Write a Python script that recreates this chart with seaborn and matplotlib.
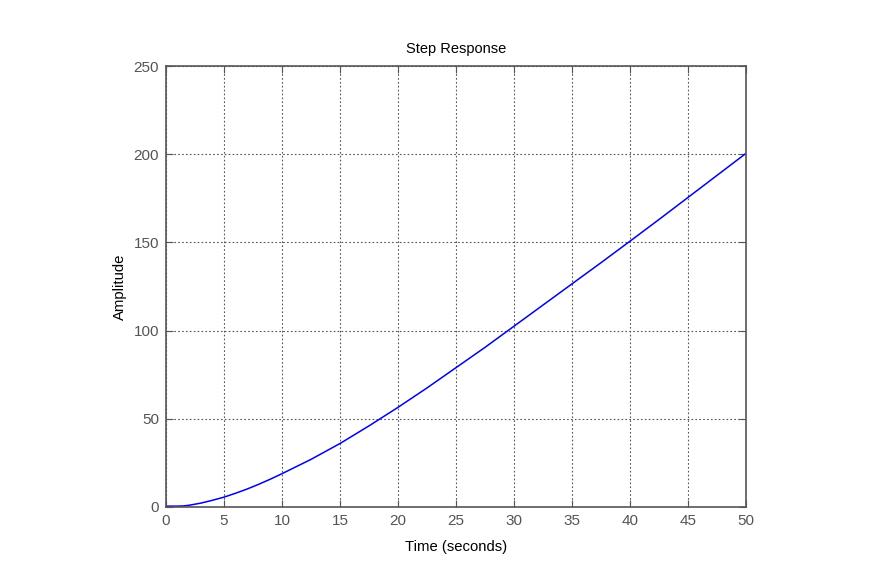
import matplotlib
matplotlib.use("Agg")
import matplotlib.pyplot as plt
import seaborn as sns
import pandas as pd

time_s = [0, 1, 1.5, 2, 3, 4, 5, 6, 7, 8, 9, 10, 12.5, 15, 17.5, 20, 22.5, 25,
          27.5, 30, 32.5, 35, 37.5, 40, 42.5, 45, 47.5, 50]
amplitude = [0.5, 0.5, 0.6, 1.0, 2.2, 3.8, 5.6, 7.8, 10.2, 12.9, 15.8, 18.9, 27.0,
             36.0, 46.0, 56.5, 67.5, 79.0, 90.5, 102.5, 114.5, 126.5, 138.5,
             150.7, 163.0, 175.5, 188.0, 200.5]
x_ticks = [0, 5, 10, 15, 20, 25, 30, 35, 40, 45, 50]
y_ticks = [0, 50, 100, 150, 200, 250]

sns.set_theme(style="white")
plt.rcParams['font.family'] = ['Liberation Sans', 'DejaVu Sans']

df = pd.DataFrame({"t": time_s, "y": amplitude})

fig = plt.figure(figsize=(8.87, 5.86), dpi=100)
ax = fig.add_axes([166/887, 79/586, 580/887, 441/586])
sns.lineplot(data=df, x="t", y="y", ax=ax, color="#0000ff", linewidth=1.1)

ax.set_xlim(0, 50)
ax.set_ylim(0, 250)
ax.set_xticks(x_ticks)
ax.set_yticks(y_ticks)
ax.grid(True, linestyle=(0, (1.5, 2.0)), color="#555555", linewidth=0.8)
for s in ax.spines.values():
    s.set_color("#555555")
    s.set_linewidth(1.2)
ax.tick_params(direction="in", length=5, width=0.8, colors="#555555",
               labelcolor="#555555", labelsize=11, top=True, right=True,
               bottom=True, left=True, pad=5)
ax.set_title("Step Response", fontsize=10.5, color="black", pad=9)
ax.set_xlabel("Time (seconds)", fontsize=10.7, color="black", labelpad=9)
ax.set_ylabel("Amplitude", fontsize=10.7, color="black", labelpad=5)

fig.savefig("out.png", dpi=100, facecolor="white")
